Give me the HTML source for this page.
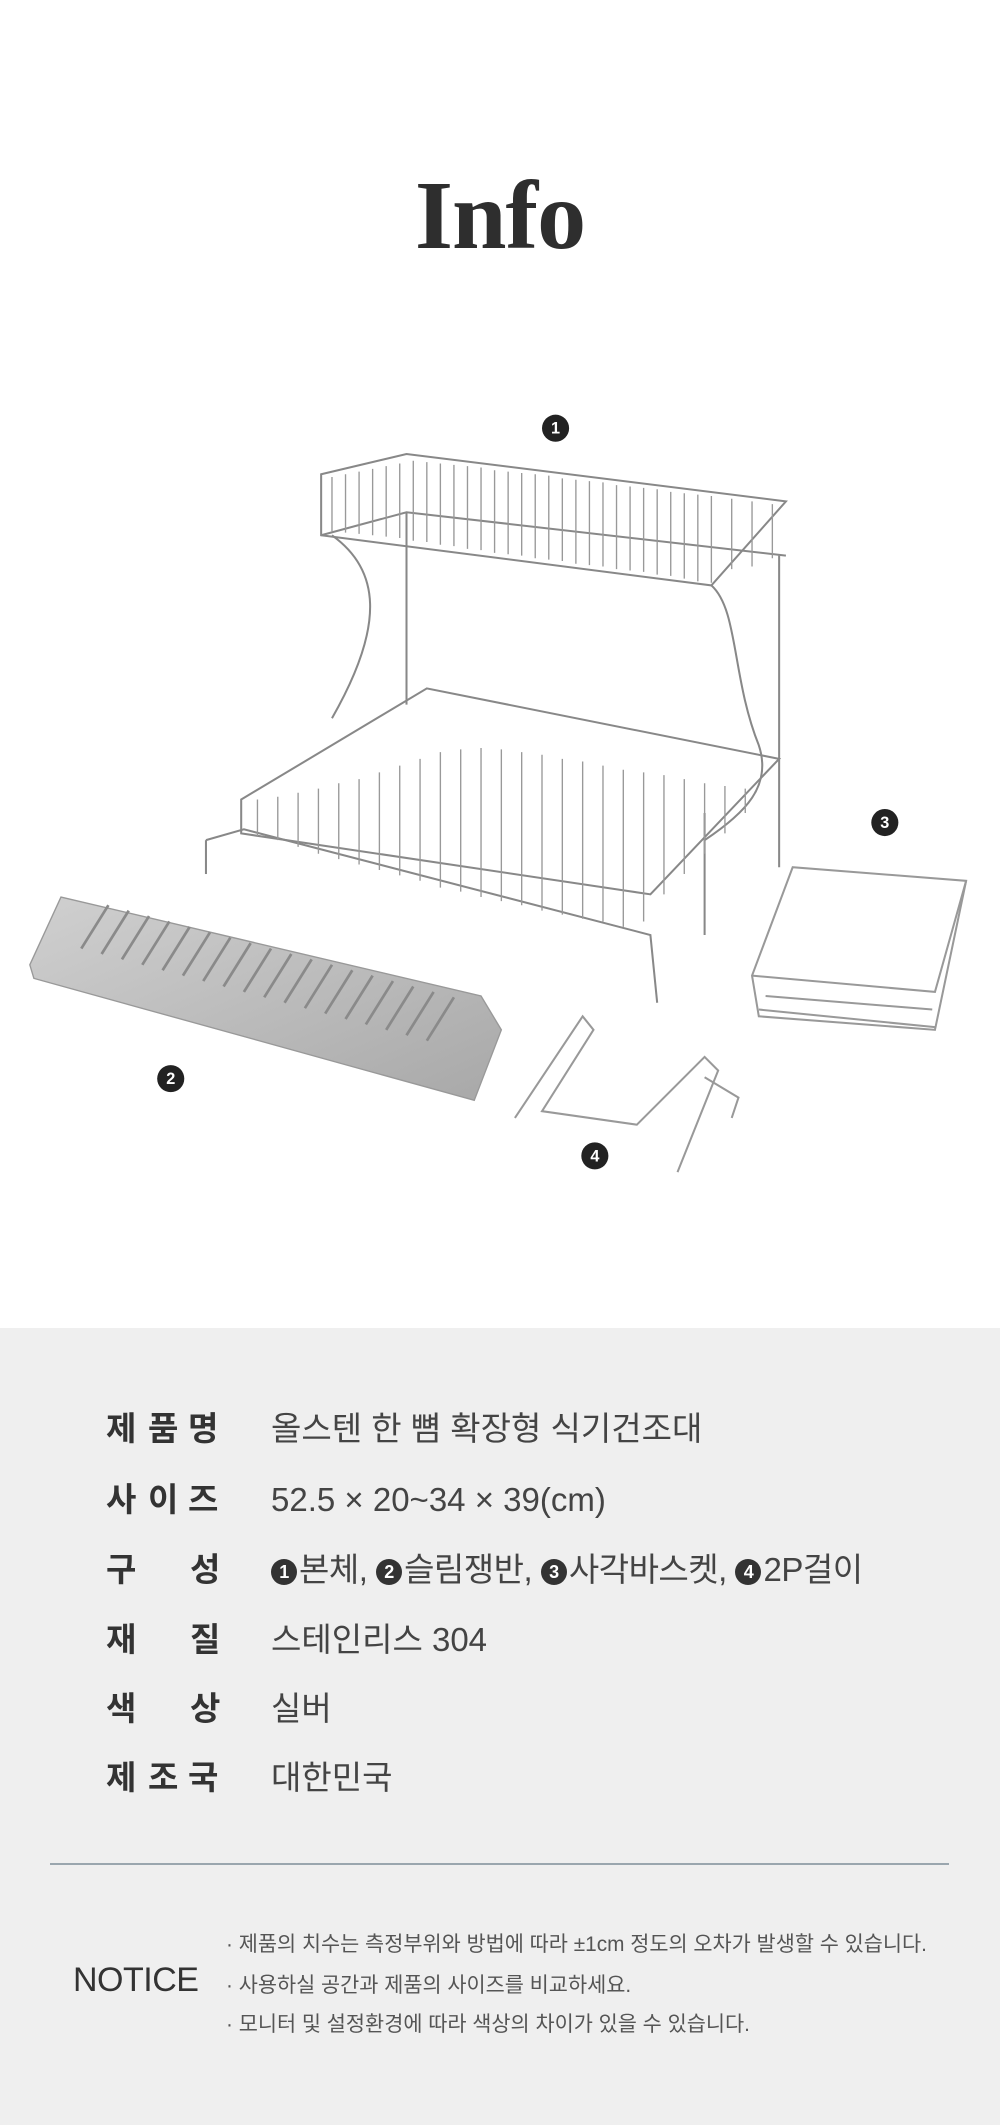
<!DOCTYPE html>
<html><head><meta charset="utf-8"><style>
body{margin:0;width:1000px;height:2125px;background:#fff;font-family:"Liberation Sans","Noto Sans CJK KR",sans-serif;color:#333;position:relative;overflow:hidden}
.t{position:absolute;left:0;width:1000px;top:160px;text-align:center;font-family:"Liberation Serif","Noto Serif CJK SC",serif;font-weight:bold;font-size:98px;color:#2e2e2e;letter-spacing:-1px}
.gray{position:absolute;left:0;top:1328px;width:1000px;height:797px;background:#efefef}
.row{position:absolute;left:0;height:40px;font-size:33px;line-height:40px;color:#444}
.lab{position:absolute;font-weight:bold;color:#333}
.val{position:absolute;left:271px;white-space:nowrap}
.hr{position:absolute;left:50px;width:899px;top:1863px;height:2px;background:#9aa6ae}
.notice{position:absolute;left:73px;top:1961px;font-size:34px;color:#333;letter-spacing:-0.5px}
.n{position:absolute;left:226px;font-size:20.8px;color:#555;white-space:nowrap}
.c{display:inline-block;width:26px;height:26px;border-radius:50%;background:#333;color:#fff;font-size:18px;line-height:26px;text-align:center;vertical-align:3px;margin-right:2px;font-weight:bold}
</style></head><body>
<div class="t">Info</div>
<svg style="position:absolute;left:0;top:0" width="1000" height="1328" viewBox="0 0 738 980">
<defs><linearGradient id="g" x1="0" y1="0" x2="1" y2="1"><stop offset="0" stop-color="#d0d0d0"/><stop offset="1" stop-color="#a8a8a8"/></linearGradient></defs>
<g fill="#222"><circle cx="410" cy="316" r="10"/><circle cx="653" cy="607" r="10"/><circle cx="126" cy="796" r="10"/><circle cx="439" cy="853" r="10"/></g>
<g fill="#fff" font-size="12" font-weight="bold" text-anchor="middle" font-family="Liberation Sans"><text x="410" y="320">1</text><text x="653" y="611">3</text><text x="126" y="800">2</text><text x="439" y="857">4</text></g>
<g stroke="#888" stroke-width="1.5" fill="none">
<polygon points="237,350 300,335 580,370 525,432 237,395"/>
<polyline points="237,395 300,378 580,410"/>
<path d="M245,395 C280,420 285,460 245,530 M525,432 C545,450 540,500 560,550 C570,580 550,600 520,620"/>
<line x1="300" y1="378" x2="300" y2="520"/><line x1="575" y1="410" x2="575" y2="640"/>
<polygon points="178,590 315,508 575,560 480,660 178,615"/>
<polyline points="152,620 180,612 480,690 485,740"/>
<polyline points="152,620 152,645"/>
<line x1="520" y1="600" x2="520" y2="690"/>
</g>
<g stroke="#999" stroke-width="1">
<path d="M245,352 L245,392 M255,350 L255,393 M265,348 L265,394 M275,346 L275,395 M285,344 L285,396 M295,342 L295,397 M305,340 L305,399 M315,341 L315,400 M325,342 L325,402 M335,343 L335,403 M345,344 L345,405 M355,345 L355,406 M365,347 L365,408 M375,348 L375,409 M385,349 L385,410 M395,350 L395,412 M405,351 L405,413 M415,353 L415,414 M425,354 L425,416 M435,355 L435,417 M445,356 L445,418 M455,358 L455,420 M465,359 L465,421 M475,360 L475,422 M485,361 L485,424 M495,363 L495,425 M505,364 L505,427 M515,365 L515,429 M525,366 L525,430 M540,368 L540,420 M555,370 L555,418 M570,372 L570,412"/>
<path d="M190,590 L190,617 M205,588 L205,620 M220,585 L220,625 M235,582 L235,630 M250,578 L250,634 M265,575 L265,638 M280,570 L280,642 M295,565 L295,646 M310,560 L310,650 M325,555 L325,655 M340,553 L340,658 M355,552 L355,662 M370,553 L370,665 M385,555 L385,668 M400,557 L400,672 M415,560 L415,675 M430,562 L430,678 M445,565 L445,680 M460,568 L460,684 M475,570 L475,680 M490,572 L490,660 M505,575 L505,645 M520,578 L520,630 M535,580 L535,615 M550,582 L550,600"/>
</g>
<polygon points="22,712 45,662 355,735 370,760 350,812 25,722" fill="url(#g)" stroke="#999"/>
<g stroke="#8a8a8a" stroke-width="2"><path d="M60,700 L80,668 M75,704 L95,672 M90,708 L110,676 M105,712 L125,680 M120,716 L140,684 M135,720 L155,688 M150,724 L170,692 M165,728 L185,696 M180,732 L200,700 M195,736 L215,704 M210,740 L230,708 M225,744 L245,712 M240,748 L260,716 M255,752 L275,720 M270,756 L290,724 M285,760 L305,728 M300,764 L320,732 M315,768 L335,736"/></g>
<g stroke="#999" stroke-width="1.5" fill="none">
<polygon points="555,720 585,640 713,650 690,760 560,750"/>
<polyline points="555,720 690,732 713,650"/>
<path d="M560,745 L690,758 M565,735 L688,745"/>
<path d="M380,825 L430,750 L438,760 L400,820 L470,830 L520,780 L530,790 L500,865 M520,795 L545,810 L540,825"/>
</g>
</svg>
<div class="gray"></div>
<div class="row" style="top:1409px"><span class="lab" style="left:106px">제</span><span class="lab" style="left:148px">품</span><span class="lab" style="left:188px">명</span><span class="val">올스텐 한 뼘 확장형 식기건조대</span></div>
<div class="row" style="top:1480px"><span class="lab" style="left:106px">사</span><span class="lab" style="left:148px">이</span><span class="lab" style="left:188px">즈</span><span class="val">52.5 × 20~34 × 39(cm)</span></div>
<div class="row" style="top:1550px"><span class="lab" style="left:106px">구</span><span class="lab" style="left:190px">성</span><span class="val" style="letter-spacing:-0.5px"><span class="c">1</span>본체, <span class="c">2</span>슬림쟁반, <span class="c">3</span>사각바스켓, <span class="c">4</span>2P걸이</span></div>
<div class="row" style="top:1620px"><span class="lab" style="left:106px">재</span><span class="lab" style="left:190px">질</span><span class="val">스테인리스 304</span></div>
<div class="row" style="top:1689px"><span class="lab" style="left:106px">색</span><span class="lab" style="left:190px">상</span><span class="val">실버</span></div>
<div class="row" style="top:1758px"><span class="lab" style="left:106px">제</span><span class="lab" style="left:148px">조</span><span class="lab" style="left:188px">국</span><span class="val">대한민국</span></div>
<div class="hr"></div>
<div class="notice">NOTICE</div>
<div class="n" style="top:1927px">· 제품의 치수는 측정부위와 방법에 따라 ±1cm 정도의 오차가 발생할 수 있습니다.</div>
<div class="n" style="top:1968px">· 사용하실 공간과 제품의 사이즈를 비교하세요.</div>
<div class="n" style="top:2007px">· 모니터 및 설정환경에 따라 색상의 차이가 있을 수 있습니다.</div>
</body></html>
